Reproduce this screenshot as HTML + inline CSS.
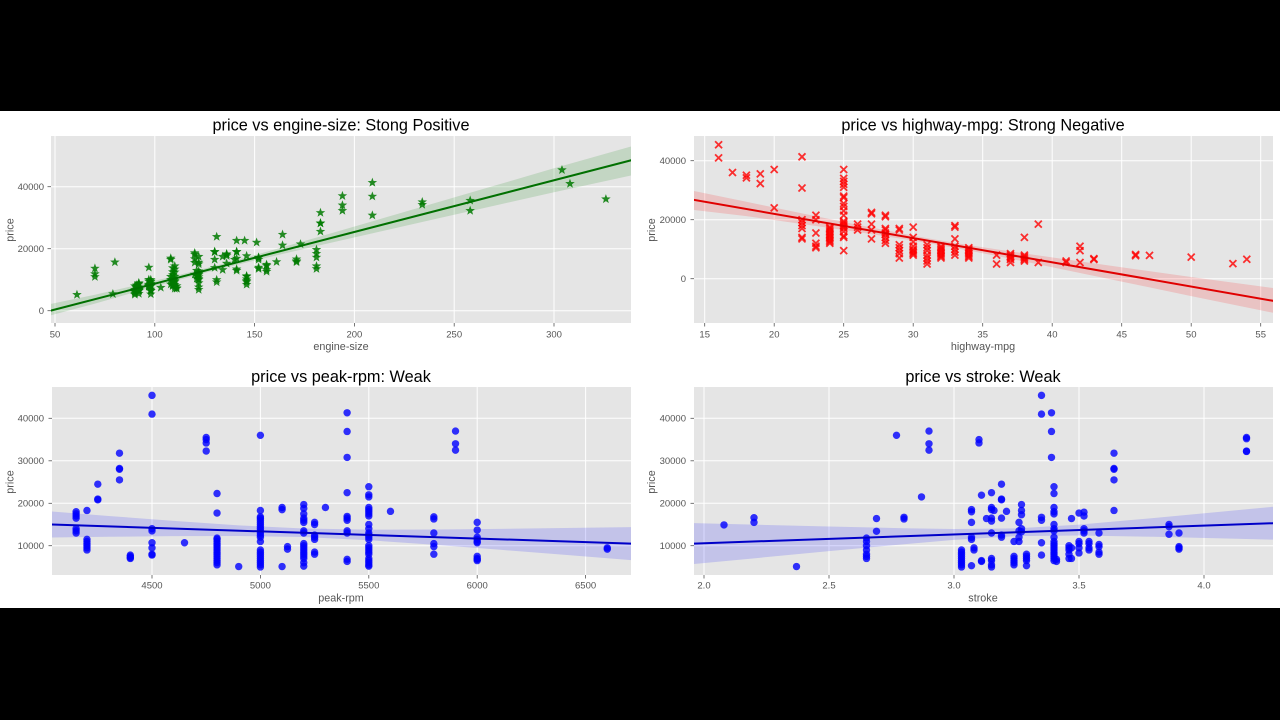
<!DOCTYPE html>
<html><head><meta charset="utf-8"><style>
html,body{margin:0;padding:0;background:#000;}
svg{display:block;}
text{font-family:"Liberation Sans",Arial,sans-serif;}
.tl{font-size:9.5px;fill:#555;}
.al{font-size:10.8px;fill:#555;}
.tt{font-size:16.3px;fill:#000;}
.g{stroke:#fff;stroke-width:1;}
.tk{stroke:#555;stroke-width:0.8;}
</style></head><body>
<svg width="1280" height="720" viewBox="0 0 1280 720" xmlns="http://www.w3.org/2000/svg">
<defs>
<path id="s1" d="M0,-5 L1.214,-1.671 L4.755,-1.545 L1.964,0.638 L2.939,4.045 L0,2.065 L-2.939,4.045 L-1.964,0.638 L-4.755,-1.545 L-1.214,-1.671 Z" fill="#007a00" fill-opacity="0.85" transform="scale(0.501,-322.58)"/>
<path id="x2" d="M-3.5,-3.5 L3.5,3.5 M-3.5,3.5 L3.5,-3.5" stroke="#ff0000" stroke-opacity="0.8" stroke-width="1.8" fill="none" transform="scale(0.071942,-338.983)"/>
<circle id="c3" r="3.7" fill="#0000ff" fill-opacity="0.8" transform="scale(4.61255,-235.46)"/>
<circle id="c4" r="3.7" fill="#0000ff" fill-opacity="0.8" transform="scale(0.004,-235.46)"/>
<clipPath id="k1"><rect x="51" y="136" width="580" height="187"/></clipPath>
<clipPath id="k2"><rect x="694" y="136" width="579" height="187"/></clipPath>
<clipPath id="k3"><rect x="52" y="387" width="579" height="188"/></clipPath>
<clipPath id="k4"><rect x="694" y="387" width="579" height="188"/></clipPath>
</defs>
<rect x="0" y="0" width="1280" height="720" fill="#000"/>
<rect x="0" y="111" width="1280" height="497" fill="#fff"/>

<!-- ===== Plot 1 ===== -->
<text class="tt" x="341" y="130.5" text-anchor="middle">price vs engine-size: Stong Positive</text>
<rect x="51" y="136" width="580" height="187" fill="#e5e5e5"/>
<g class="g">
<line x1="55" y1="136" x2="55" y2="323"/><line x1="154.8" y1="136" x2="154.8" y2="323"/><line x1="254.6" y1="136" x2="254.6" y2="323"/><line x1="354.4" y1="136" x2="354.4" y2="323"/><line x1="454.2" y1="136" x2="454.2" y2="323"/><line x1="554" y1="136" x2="554" y2="323"/>
<line x1="51" y1="310.7" x2="631" y2="310.7"/><line x1="51" y1="248.7" x2="631" y2="248.7"/><line x1="51" y1="186.7" x2="631" y2="186.7"/>
</g>
<g class="tk">
<line x1="55" y1="323" x2="55" y2="326.5"/><line x1="154.8" y1="323" x2="154.8" y2="326.5"/><line x1="254.6" y1="323" x2="254.6" y2="326.5"/><line x1="354.4" y1="323" x2="354.4" y2="326.5"/><line x1="454.2" y1="323" x2="454.2" y2="326.5"/><line x1="554" y1="323" x2="554" y2="326.5"/>
<line x1="47.5" y1="310.7" x2="51" y2="310.7"/><line x1="47.5" y1="248.7" x2="51" y2="248.7"/><line x1="47.5" y1="186.7" x2="51" y2="186.7"/>
</g>
<g class="tl" text-anchor="middle">
<text x="55" y="337.5">50</text><text x="154.8" y="337.5">100</text><text x="254.6" y="337.5">150</text><text x="354.4" y="337.5">200</text><text x="454.2" y="337.5">250</text><text x="554" y="337.5">300</text>
</g>
<g class="tl" text-anchor="end">
<text x="44" y="314">0</text><text x="44" y="252">20000</text><text x="44" y="190">40000</text>
</g>
<text class="al" x="341" y="350" text-anchor="middle">engine-size</text>
<text class="al" transform="translate(13.5,230) rotate(-90)" text-anchor="middle">price</text>
<g clip-path="url(#k1)">
<g transform="matrix(1.996 0 0 -0.0031 -44.8 310.7)">
<polygon fill="#008000" fill-opacity="0.15" points="46,1915 70,5147 90,8122 110,11178 127,13921 150,17920 180,23419 210,29018 240,34648 270,40291 300,45941 340,53217 340,43817 300,38213 270,33855 240,29490 210,25112 180,20703 150,16194 127,12521 110,9592 90,5976 70,2279 46,-1827"/>
<use href="#s1" x="61" y="5151"/><use href="#s1" x="70" y="10945"/><use href="#s1" x="70" y="11845"/><use href="#s1" x="70" y="13645"/><use href="#s1" x="79" y="5399"/><use href="#s1" x="80" y="15645"/>
<use href="#s1" x="90" y="5572"/><use href="#s1" x="90" y="6377"/><use href="#s1" x="90" y="7957"/><use href="#s1" x="90" y="6229"/><use href="#s1" x="90" y="5195"/><use href="#s1" x="90" y="6095"/><use href="#s1" x="90" y="6795"/>
<use href="#s1" x="91" y="7349"/><use href="#s1" x="91" y="7299"/><use href="#s1" x="91" y="7799"/><use href="#s1" x="91" y="7499"/><use href="#s1" x="91" y="7999"/><use href="#s1" x="91" y="8249"/>
<use href="#s1" x="92" y="6692"/><use href="#s1" x="92" y="7609"/><use href="#s1" x="92" y="8558"/><use href="#s1" x="92" y="8921"/><use href="#s1" x="92" y="6338"/><use href="#s1" x="92" y="6488"/><use href="#s1" x="92" y="5499"/><use href="#s1" x="92" y="7099"/><use href="#s1" x="92" y="6649"/><use href="#s1" x="92" y="6849"/><use href="#s1" x="92" y="6695"/><use href="#s1" x="92" y="7395"/><use href="#s1" x="92" y="8845"/>
<use href="#s1" x="97" y="13950"/><use href="#s1" x="97" y="7775"/><use href="#s1" x="97" y="7975"/><use href="#s1" x="97" y="8195"/><use href="#s1" x="97" y="8495"/><use href="#s1" x="97" y="9495"/><use href="#s1" x="97" y="9995"/>
<use href="#s1" x="98" y="5348"/><use href="#s1" x="98" y="6338"/><use href="#s1" x="98" y="6488"/><use href="#s1" x="98" y="6918"/><use href="#s1" x="98" y="7898"/><use href="#s1" x="98" y="8778"/><use href="#s1" x="98" y="9988"/><use href="#s1" x="98" y="8058"/><use href="#s1" x="98" y="8238"/><use href="#s1" x="98" y="9298"/><use href="#s1" x="98" y="9538"/>
<use href="#s1" x="103" y="7463"/>
<use href="#s1" x="108" y="16500"/><use href="#s1" x="108" y="16900"/><use href="#s1" x="108" y="11000"/><use href="#s1" x="108" y="10000"/><use href="#s1" x="108" y="8500"/>
<use href="#s1" x="109" y="7995"/><use href="#s1" x="109" y="8195"/><use href="#s1" x="109" y="8495"/><use href="#s1" x="109" y="9995"/><use href="#s1" x="109" y="11595"/><use href="#s1" x="109" y="9295"/><use href="#s1" x="109" y="9895"/><use href="#s1" x="109" y="12500"/><use href="#s1" x="109" y="13800"/>
<use href="#s1" x="110" y="7126"/><use href="#s1" x="110" y="7775"/><use href="#s1" x="110" y="8449"/><use href="#s1" x="110" y="9279"/><use href="#s1" x="110" y="9639"/><use href="#s1" x="110" y="10198"/><use href="#s1" x="110" y="11048"/><use href="#s1" x="110" y="12440"/><use href="#s1" x="110" y="13415"/><use href="#s1" x="110" y="14399"/>
<use href="#s1" x="111" y="8013"/><use href="#s1" x="111" y="7295"/><use href="#s1" x="111" y="7150"/>
<use href="#s1" x="120" y="18150"/><use href="#s1" x="120" y="18620"/><use href="#s1" x="120" y="16695"/><use href="#s1" x="120" y="15510"/><use href="#s1" x="120" y="11694"/>
<use href="#s1" x="121" y="12945"/><use href="#s1" x="121" y="10345"/><use href="#s1" x="121" y="11259"/>
<use href="#s1" x="122" y="6785"/><use href="#s1" x="122" y="7603"/><use href="#s1" x="122" y="8948"/><use href="#s1" x="122" y="9988"/><use href="#s1" x="122" y="10295"/><use href="#s1" x="122" y="10898"/><use href="#s1" x="122" y="11549"/><use href="#s1" x="122" y="11850"/><use href="#s1" x="122" y="12170"/><use href="#s1" x="122" y="12764"/><use href="#s1" x="122" y="15040"/><use href="#s1" x="122" y="15580"/><use href="#s1" x="122" y="17450"/>
<use href="#s1" x="130" y="18920"/><use href="#s1" x="130" y="19045"/><use href="#s1" x="130" y="16515"/><use href="#s1" x="130" y="13860"/>
<use href="#s1" x="131" y="23875"/><use href="#s1" x="131" y="9960"/><use href="#s1" x="131" y="9233"/>
<use href="#s1" x="134" y="13200"/><use href="#s1" x="134" y="17450"/>
<use href="#s1" x="136" y="17710"/><use href="#s1" x="136" y="18280"/><use href="#s1" x="136" y="18150"/><use href="#s1" x="136" y="15250"/>
<use href="#s1" x="140" y="16515"/>
<use href="#s1" x="141" y="22625"/><use href="#s1" x="141" y="18950"/><use href="#s1" x="141" y="16845"/><use href="#s1" x="141" y="13415"/><use href="#s1" x="141" y="12940"/><use href="#s1" x="141" y="19045"/>
<use href="#s1" x="145" y="22625"/>
<use href="#s1" x="146" y="8449"/><use href="#s1" x="146" y="9279"/><use href="#s1" x="146" y="9639"/><use href="#s1" x="146" y="11048"/><use href="#s1" x="146" y="11199"/><use href="#s1" x="146" y="17669"/><use href="#s1" x="146" y="10198"/>
<use href="#s1" x="151" y="22018"/>
<use href="#s1" x="152" y="16500"/><use href="#s1" x="152" y="17199"/><use href="#s1" x="152" y="17075"/><use href="#s1" x="152" y="13950"/><use href="#s1" x="152" y="13499"/>
<use href="#s1" x="156" y="12629"/><use href="#s1" x="156" y="14489"/><use href="#s1" x="156" y="14869"/><use href="#s1" x="156" y="13200"/>
<use href="#s1" x="161" y="15750"/>
<use href="#s1" x="164" y="21105"/><use href="#s1" x="164" y="24565"/>
<use href="#s1" x="171" y="15998"/><use href="#s1" x="171" y="15690"/><use href="#s1" x="171" y="16630"/>
<use href="#s1" x="173" y="21485"/>
<use href="#s1" x="181" y="13499"/><use href="#s1" x="181" y="14399"/><use href="#s1" x="181" y="17199"/><use href="#s1" x="181" y="18399"/><use href="#s1" x="181" y="19699"/>
<use href="#s1" x="183" y="25552"/><use href="#s1" x="183" y="28176"/><use href="#s1" x="183" y="28248"/><use href="#s1" x="183" y="31600"/>
<use href="#s1" x="194" y="32250"/><use href="#s1" x="194" y="34028"/><use href="#s1" x="194" y="37028"/>
<use href="#s1" x="209" y="30760"/><use href="#s1" x="209" y="36880"/><use href="#s1" x="209" y="41315"/>
<use href="#s1" x="234" y="34184"/><use href="#s1" x="234" y="35056"/>
<use href="#s1" x="258" y="32250"/><use href="#s1" x="258" y="35550"/>
<use href="#s1" x="304" y="45400"/><use href="#s1" x="308" y="40960"/><use href="#s1" x="326" y="36000"/>
<line x1="46" y1="-290" x2="340" y2="48751" stroke="#007000" stroke-width="2" vector-effect="non-scaling-stroke"/>
</g></g>

<!-- ===== Plot 2 ===== -->
<text class="tt" x="983" y="130.5" text-anchor="middle">price vs highway-mpg: Strong Negative</text>
<rect x="694" y="136" width="579" height="187" fill="#e5e5e5"/>
<g class="g">
<line x1="704.7" y1="136" x2="704.7" y2="323"/><line x1="774.2" y1="136" x2="774.2" y2="323"/><line x1="843.7" y1="136" x2="843.7" y2="323"/><line x1="913.2" y1="136" x2="913.2" y2="323"/><line x1="982.7" y1="136" x2="982.7" y2="323"/><line x1="1052.2" y1="136" x2="1052.2" y2="323"/><line x1="1121.7" y1="136" x2="1121.7" y2="323"/><line x1="1191.2" y1="136" x2="1191.2" y2="323"/><line x1="1260.7" y1="136" x2="1260.7" y2="323"/>
<line x1="694" y1="278.7" x2="1273" y2="278.7"/><line x1="694" y1="219.7" x2="1273" y2="219.7"/><line x1="694" y1="160.7" x2="1273" y2="160.7"/>
</g>
<g class="tk">
<line x1="704.7" y1="323" x2="704.7" y2="326.5"/><line x1="774.2" y1="323" x2="774.2" y2="326.5"/><line x1="843.7" y1="323" x2="843.7" y2="326.5"/><line x1="913.2" y1="323" x2="913.2" y2="326.5"/><line x1="982.7" y1="323" x2="982.7" y2="326.5"/><line x1="1052.2" y1="323" x2="1052.2" y2="326.5"/><line x1="1121.7" y1="323" x2="1121.7" y2="326.5"/><line x1="1191.2" y1="323" x2="1191.2" y2="326.5"/><line x1="1260.7" y1="323" x2="1260.7" y2="326.5"/>
<line x1="690.5" y1="278.7" x2="694" y2="278.7"/><line x1="690.5" y1="219.7" x2="694" y2="219.7"/><line x1="690.5" y1="160.7" x2="694" y2="160.7"/>
</g>
<g class="tl" text-anchor="middle">
<text x="704.7" y="337.5">15</text><text x="774.2" y="337.5">20</text><text x="843.7" y="337.5">25</text><text x="913.2" y="337.5">30</text><text x="982.7" y="337.5">35</text><text x="1052.2" y="337.5">40</text><text x="1121.7" y="337.5">45</text><text x="1191.2" y="337.5">50</text><text x="1260.7" y="337.5">55</text>
</g>
<g class="tl" text-anchor="end">
<text x="686" y="282">0</text><text x="686" y="223">20000</text><text x="686" y="164">40000</text>
</g>
<text class="al" x="983" y="350" text-anchor="middle">highway-mpg</text>
<text class="al" transform="translate(655,230) rotate(-90)" text-anchor="middle">price</text>
<g clip-path="url(#k2)">
<g transform="matrix(13.9 0 0 -0.00295 496.2 278.7)">
<polygon fill="#ff0000" fill-opacity="0.15" points="14,29950 18,26067 22,22151 26,18291 30,14612 31.5,13339 34,11391 38,8564 42,5871 46,3221 50,589 56.2,-3342 56.2,-11842 50,-5913 46,-1971 42,1953 38,5832 34,9579 31.5,11739 30,12932 26,15827 22,18541 18,21197 14,23400"/>
<use href="#x2" x="16" y="45400"/><use href="#x2" x="16" y="40960"/><use href="#x2" x="17" y="36000"/><use href="#x2" x="18" y="34184"/><use href="#x2" x="18" y="35056"/><use href="#x2" x="19" y="35550"/><use href="#x2" x="19" y="32250"/><use href="#x2" x="20" y="37028"/><use href="#x2" x="20" y="24000"/>
<use href="#x2" x="22" y="41315"/><use href="#x2" x="22" y="30760"/><use href="#x2" x="22" y="20000"/><use href="#x2" x="22" y="19000"/><use href="#x2" x="22" y="18000"/><use href="#x2" x="22" y="17000"/><use href="#x2" x="22" y="14000"/><use href="#x2" x="22" y="13500"/>
<use href="#x2" x="23" y="21500"/><use href="#x2" x="23" y="20000"/><use href="#x2" x="23" y="15500"/><use href="#x2" x="23" y="12000"/><use href="#x2" x="23" y="11000"/><use href="#x2" x="23" y="10500"/>
<use href="#x2" x="24" y="17500"/><use href="#x2" x="24" y="17000"/><use href="#x2" x="24" y="16500"/><use href="#x2" x="24" y="16000"/><use href="#x2" x="24" y="15500"/><use href="#x2" x="24" y="15000"/><use href="#x2" x="24" y="14500"/><use href="#x2" x="24" y="14000"/><use href="#x2" x="24" y="13500"/><use href="#x2" x="24" y="13000"/><use href="#x2" x="24" y="12500"/><use href="#x2" x="24" y="12000"/>
<use href="#x2" x="25" y="37028"/><use href="#x2" x="25" y="34000"/><use href="#x2" x="25" y="33000"/><use href="#x2" x="25" y="32000"/><use href="#x2" x="25" y="31000"/><use href="#x2" x="25" y="28000"/><use href="#x2" x="25" y="27500"/><use href="#x2" x="25" y="25500"/><use href="#x2" x="25" y="24500"/><use href="#x2" x="25" y="23000"/><use href="#x2" x="25" y="21500"/><use href="#x2" x="25" y="19500"/><use href="#x2" x="25" y="19000"/><use href="#x2" x="25" y="18500"/><use href="#x2" x="25" y="18000"/><use href="#x2" x="25" y="17500"/><use href="#x2" x="25" y="17000"/><use href="#x2" x="25" y="16000"/><use href="#x2" x="25" y="14500"/><use href="#x2" x="25" y="14000"/><use href="#x2" x="25" y="9500"/>
<use href="#x2" x="26" y="18500"/><use href="#x2" x="26" y="17500"/><use href="#x2" x="26" y="16500"/>
<use href="#x2" x="27" y="22500"/><use href="#x2" x="27" y="22000"/><use href="#x2" x="27" y="18500"/><use href="#x2" x="27" y="16500"/><use href="#x2" x="27" y="13500"/>
<use href="#x2" x="28" y="21500"/><use href="#x2" x="28" y="21000"/><use href="#x2" x="28" y="17000"/><use href="#x2" x="28" y="16500"/><use href="#x2" x="28" y="15500"/><use href="#x2" x="28" y="15000"/><use href="#x2" x="28" y="14000"/><use href="#x2" x="28" y="13000"/><use href="#x2" x="28" y="12000"/>
<use href="#x2" x="29" y="17000"/><use href="#x2" x="29" y="16500"/><use href="#x2" x="29" y="11500"/><use href="#x2" x="29" y="10500"/><use href="#x2" x="29" y="9500"/><use href="#x2" x="29" y="8500"/><use href="#x2" x="29" y="7000"/>
<use href="#x2" x="30" y="17500"/><use href="#x2" x="30" y="14000"/><use href="#x2" x="30" y="12500"/><use href="#x2" x="30" y="11000"/><use href="#x2" x="30" y="10000"/><use href="#x2" x="30" y="9500"/><use href="#x2" x="30" y="9000"/><use href="#x2" x="30" y="8500"/><use href="#x2" x="30" y="8000"/>
<use href="#x2" x="31" y="11500"/><use href="#x2" x="31" y="10500"/><use href="#x2" x="31" y="9500"/><use href="#x2" x="31" y="8000"/><use href="#x2" x="31" y="7000"/><use href="#x2" x="31" y="6000"/><use href="#x2" x="31" y="5000"/>
<use href="#x2" x="32" y="11000"/><use href="#x2" x="32" y="10500"/><use href="#x2" x="32" y="10000"/><use href="#x2" x="32" y="9500"/><use href="#x2" x="32" y="9000"/><use href="#x2" x="32" y="8500"/><use href="#x2" x="32" y="8000"/><use href="#x2" x="32" y="7500"/><use href="#x2" x="32" y="7000"/>
<use href="#x2" x="33" y="18000"/><use href="#x2" x="33" y="17500"/><use href="#x2" x="33" y="13500"/><use href="#x2" x="33" y="11000"/><use href="#x2" x="33" y="10000"/><use href="#x2" x="33" y="9000"/><use href="#x2" x="33" y="8000"/>
<use href="#x2" x="34" y="10500"/><use href="#x2" x="34" y="10000"/><use href="#x2" x="34" y="9500"/><use href="#x2" x="34" y="9000"/><use href="#x2" x="34" y="8500"/><use href="#x2" x="34" y="8000"/><use href="#x2" x="34" y="7500"/><use href="#x2" x="34" y="7000"/>
<use href="#x2" x="36" y="8000"/><use href="#x2" x="36" y="5000"/>
<use href="#x2" x="37" y="8500"/><use href="#x2" x="37" y="8000"/><use href="#x2" x="37" y="7500"/><use href="#x2" x="37" y="7000"/><use href="#x2" x="37" y="6500"/><use href="#x2" x="37" y="5500"/>
<use href="#x2" x="38" y="14000"/><use href="#x2" x="38" y="8000"/><use href="#x2" x="38" y="7500"/><use href="#x2" x="38" y="7000"/><use href="#x2" x="38" y="6500"/><use href="#x2" x="38" y="6000"/>
<use href="#x2" x="39" y="18500"/><use href="#x2" x="39" y="5500"/>
<use href="#x2" x="41" y="6000"/><use href="#x2" x="41" y="5500"/>
<use href="#x2" x="42" y="11000"/><use href="#x2" x="42" y="9500"/><use href="#x2" x="42" y="5500"/>
<use href="#x2" x="43" y="6800"/><use href="#x2" x="43" y="6500"/>
<use href="#x2" x="46" y="8200"/><use href="#x2" x="46" y="7800"/><use href="#x2" x="47" y="7900"/><use href="#x2" x="50" y="7300"/><use href="#x2" x="53" y="5100"/><use href="#x2" x="54" y="6600"/>
<line x1="14" y1="26919" x2="56.2" y2="-7757" stroke="#e00000" stroke-width="2" vector-effect="non-scaling-stroke"/>
</g></g>

<!-- ===== Plot 3 ===== -->
<text class="tt" x="341" y="382" text-anchor="middle">price vs peak-rpm: Weak</text>
<rect x="52" y="387" width="579" height="188" fill="#e5e5e5"/>
<g class="g">
<line x1="152" y1="387" x2="152" y2="575"/><line x1="260.4" y1="387" x2="260.4" y2="575"/><line x1="368.8" y1="387" x2="368.8" y2="575"/><line x1="477.2" y1="387" x2="477.2" y2="575"/><line x1="585.6" y1="387" x2="585.6" y2="575"/>
<line x1="52" y1="545.7" x2="631" y2="545.7"/><line x1="52" y1="503.3" x2="631" y2="503.3"/><line x1="52" y1="460.8" x2="631" y2="460.8"/><line x1="52" y1="418.3" x2="631" y2="418.3"/>
</g>
<g class="tk">
<line x1="152" y1="575" x2="152" y2="578.5"/><line x1="260.4" y1="575" x2="260.4" y2="578.5"/><line x1="368.8" y1="575" x2="368.8" y2="578.5"/><line x1="477.2" y1="575" x2="477.2" y2="578.5"/><line x1="585.6" y1="575" x2="585.6" y2="578.5"/>
<line x1="48.5" y1="545.7" x2="52" y2="545.7"/><line x1="48.5" y1="503.3" x2="52" y2="503.3"/><line x1="48.5" y1="460.8" x2="52" y2="460.8"/><line x1="48.5" y1="418.3" x2="52" y2="418.3"/>
</g>
<g class="tl" text-anchor="middle">
<text x="152" y="588.5">4500</text><text x="260.4" y="588.5">5000</text><text x="368.8" y="588.5">5500</text><text x="477.2" y="588.5">6000</text><text x="585.6" y="588.5">6500</text>
</g>
<g class="tl" text-anchor="end">
<text x="44" y="549">10000</text><text x="44" y="506.6">20000</text><text x="44" y="464.1">30000</text><text x="44" y="421.6">40000</text>
</g>
<text class="al" x="341" y="601.5" text-anchor="middle">peak-rpm</text>
<text class="al" transform="translate(13.5,482) rotate(-90)" text-anchor="middle">price</text>
<g clip-path="url(#k3)">
<g transform="matrix(0.2168 0 0 -0.004247 -823.6 588.2)">
<polygon fill="#0000ff" fill-opacity="0.15" points="4030,18090 4300,17014 4600,15853 4900,14797 5200,14044 5500,13786 5800,13831 6100,13981 6400,14173 6715,14395 6715,6600 6400,7871 6100,9073 5800,10235 5500,11290 5200,12044 4900,12301 4600,12257 4300,12106 4030,11930"/>
<use href="#c3" x="4150" y="18000"/><use href="#c3" x="4150" y="17500"/><use href="#c3" x="4150" y="17000"/><use href="#c3" x="4150" y="16500"/><use href="#c3" x="4150" y="14000"/><use href="#c3" x="4150" y="13500"/><use href="#c3" x="4150" y="13000"/>
<use href="#c3" x="4200" y="18300"/><use href="#c3" x="4200" y="11500"/><use href="#c3" x="4200" y="11000"/><use href="#c3" x="4200" y="10500"/><use href="#c3" x="4200" y="10000"/><use href="#c3" x="4200" y="9500"/><use href="#c3" x="4200" y="9000"/>
<use href="#c3" x="4250" y="24500"/><use href="#c3" x="4250" y="21000"/><use href="#c3" x="4250" y="20800"/>
<use href="#c3" x="4350" y="31800"/><use href="#c3" x="4350" y="28200"/><use href="#c3" x="4350" y="28000"/><use href="#c3" x="4350" y="25500"/>
<use href="#c3" x="4400" y="7800"/><use href="#c3" x="4400" y="7500"/><use href="#c3" x="4400" y="7200"/><use href="#c3" x="4400" y="7000"/>
<use href="#c3" x="4500" y="45400"/><use href="#c3" x="4500" y="41000"/><use href="#c3" x="4500" y="14000"/><use href="#c3" x="4500" y="13500"/><use href="#c3" x="4500" y="10700"/><use href="#c3" x="4500" y="9500"/><use href="#c3" x="4500" y="8000"/><use href="#c3" x="4500" y="7800"/>
<use href="#c3" x="4650" y="10700"/>
<use href="#c3" x="4750" y="35500"/><use href="#c3" x="4750" y="35000"/><use href="#c3" x="4750" y="34200"/><use href="#c3" x="4750" y="32300"/>
<use href="#c3" x="4800" y="22300"/><use href="#c3" x="4800" y="17700"/><use href="#c3" x="4800" y="11800"/><use href="#c3" x="4800" y="11500"/><use href="#c3" x="4800" y="11000"/><use href="#c3" x="4800" y="10500"/><use href="#c3" x="4800" y="10000"/><use href="#c3" x="4800" y="9500"/><use href="#c3" x="4800" y="9000"/><use href="#c3" x="4800" y="8500"/><use href="#c3" x="4800" y="8000"/><use href="#c3" x="4800" y="7500"/><use href="#c3" x="4800" y="7000"/><use href="#c3" x="4800" y="6500"/><use href="#c3" x="4800" y="6000"/><use href="#c3" x="4800" y="5500"/>
<use href="#c3" x="4900" y="5100"/>
<use href="#c3" x="5000" y="36000"/><use href="#c3" x="5000" y="18300"/><use href="#c3" x="5000" y="16800"/><use href="#c3" x="5000" y="16500"/><use href="#c3" x="5000" y="16000"/><use href="#c3" x="5000" y="15500"/><use href="#c3" x="5000" y="15000"/><use href="#c3" x="5000" y="14500"/><use href="#c3" x="5000" y="14000"/><use href="#c3" x="5000" y="13500"/><use href="#c3" x="5000" y="13000"/><use href="#c3" x="5000" y="12500"/><use href="#c3" x="5000" y="12000"/><use href="#c3" x="5000" y="11000"/><use href="#c3" x="5000" y="9000"/><use href="#c3" x="5000" y="8500"/><use href="#c3" x="5000" y="8000"/><use href="#c3" x="5000" y="7500"/><use href="#c3" x="5000" y="7000"/><use href="#c3" x="5000" y="6500"/><use href="#c3" x="5000" y="6000"/><use href="#c3" x="5000" y="5500"/><use href="#c3" x="5000" y="5000"/>
<use href="#c3" x="5100" y="19000"/><use href="#c3" x="5100" y="18500"/><use href="#c3" x="5100" y="5100"/>
<use href="#c3" x="5125" y="9800"/><use href="#c3" x="5125" y="9200"/>
<use href="#c3" x="5200" y="19700"/><use href="#c3" x="5200" y="18800"/><use href="#c3" x="5200" y="17500"/><use href="#c3" x="5200" y="16500"/><use href="#c3" x="5200" y="16000"/><use href="#c3" x="5200" y="15500"/><use href="#c3" x="5200" y="13500"/><use href="#c3" x="5200" y="13000"/><use href="#c3" x="5200" y="10500"/><use href="#c3" x="5200" y="10000"/><use href="#c3" x="5200" y="9500"/><use href="#c3" x="5200" y="9000"/><use href="#c3" x="5200" y="8500"/><use href="#c3" x="5200" y="8000"/><use href="#c3" x="5200" y="7500"/><use href="#c3" x="5200" y="7000"/><use href="#c3" x="5200" y="6000"/><use href="#c3" x="5200" y="5200"/>
<use href="#c3" x="5250" y="15500"/><use href="#c3" x="5250" y="15000"/><use href="#c3" x="5250" y="12500"/><use href="#c3" x="5250" y="12000"/><use href="#c3" x="5250" y="11500"/><use href="#c3" x="5250" y="8500"/><use href="#c3" x="5250" y="8000"/>
<use href="#c3" x="5300" y="19000"/>
<use href="#c3" x="5400" y="41300"/><use href="#c3" x="5400" y="36900"/><use href="#c3" x="5400" y="30800"/><use href="#c3" x="5400" y="22500"/><use href="#c3" x="5400" y="16900"/><use href="#c3" x="5400" y="16500"/><use href="#c3" x="5400" y="16000"/><use href="#c3" x="5400" y="13500"/><use href="#c3" x="5400" y="13000"/><use href="#c3" x="5400" y="6800"/><use href="#c3" x="5400" y="6300"/>
<use href="#c3" x="5500" y="23900"/><use href="#c3" x="5500" y="22000"/><use href="#c3" x="5500" y="21500"/><use href="#c3" x="5500" y="19000"/><use href="#c3" x="5500" y="18500"/><use href="#c3" x="5500" y="18000"/><use href="#c3" x="5500" y="17500"/><use href="#c3" x="5500" y="17000"/><use href="#c3" x="5500" y="15000"/><use href="#c3" x="5500" y="14000"/><use href="#c3" x="5500" y="13000"/><use href="#c3" x="5500" y="12500"/><use href="#c3" x="5500" y="12000"/><use href="#c3" x="5500" y="11500"/><use href="#c3" x="5500" y="10000"/><use href="#c3" x="5500" y="9500"/><use href="#c3" x="5500" y="9000"/><use href="#c3" x="5500" y="8500"/><use href="#c3" x="5500" y="8000"/><use href="#c3" x="5500" y="7000"/><use href="#c3" x="5500" y="6500"/><use href="#c3" x="5500" y="6000"/><use href="#c3" x="5500" y="5500"/><use href="#c3" x="5500" y="5200"/>
<use href="#c3" x="5600" y="18100"/>
<use href="#c3" x="5800" y="16800"/><use href="#c3" x="5800" y="16300"/><use href="#c3" x="5800" y="13000"/><use href="#c3" x="5800" y="10500"/><use href="#c3" x="5800" y="9800"/><use href="#c3" x="5800" y="8000"/>
<use href="#c3" x="5900" y="37000"/><use href="#c3" x="5900" y="34000"/><use href="#c3" x="5900" y="32500"/>
<use href="#c3" x="6000" y="15500"/><use href="#c3" x="6000" y="13700"/><use href="#c3" x="6000" y="12000"/><use href="#c3" x="6000" y="11500"/><use href="#c3" x="6000" y="11000"/><use href="#c3" x="6000" y="10700"/><use href="#c3" x="6000" y="7500"/><use href="#c3" x="6000" y="7000"/><use href="#c3" x="6000" y="6800"/><use href="#c3" x="6000" y="6500"/>
<use href="#c3" x="6600" y="9500"/><use href="#c3" x="6600" y="9200"/>
<line x1="4030" y1="15015" x2="6715" y2="10491" stroke="#0000c8" stroke-width="2" vector-effect="non-scaling-stroke"/>
</g></g>

<!-- ===== Plot 4 ===== -->
<text class="tt" x="983" y="382" text-anchor="middle">price vs stroke: Weak</text>
<rect x="694" y="387" width="579" height="188" fill="#e5e5e5"/>
<g class="g">
<line x1="704" y1="387" x2="704" y2="575"/><line x1="829" y1="387" x2="829" y2="575"/><line x1="954" y1="387" x2="954" y2="575"/><line x1="1079" y1="387" x2="1079" y2="575"/><line x1="1204" y1="387" x2="1204" y2="575"/>
<line x1="694" y1="545.7" x2="1273" y2="545.7"/><line x1="694" y1="503.3" x2="1273" y2="503.3"/><line x1="694" y1="460.8" x2="1273" y2="460.8"/><line x1="694" y1="418.3" x2="1273" y2="418.3"/>
</g>
<g class="tk">
<line x1="704" y1="575" x2="704" y2="578.5"/><line x1="829" y1="575" x2="829" y2="578.5"/><line x1="954" y1="575" x2="954" y2="578.5"/><line x1="1079" y1="575" x2="1079" y2="578.5"/><line x1="1204" y1="575" x2="1204" y2="578.5"/>
<line x1="690.5" y1="545.7" x2="694" y2="545.7"/><line x1="690.5" y1="503.3" x2="694" y2="503.3"/><line x1="690.5" y1="460.8" x2="694" y2="460.8"/><line x1="690.5" y1="418.3" x2="694" y2="418.3"/>
</g>
<g class="tl" text-anchor="middle">
<text x="704" y="588.5">2.0</text><text x="829" y="588.5">2.5</text><text x="954" y="588.5">3.0</text><text x="1079" y="588.5">3.5</text><text x="1204" y="588.5">4.0</text>
</g>
<g class="tl" text-anchor="end">
<text x="686" y="549">10000</text><text x="686" y="506.6">20000</text><text x="686" y="464.1">30000</text><text x="686" y="421.6">40000</text>
</g>
<text class="al" x="983" y="601.5" text-anchor="middle">stroke</text>
<text class="al" transform="translate(655,482) rotate(-90)" text-anchor="middle">price</text>
<g clip-path="url(#k4)">
<g transform="matrix(250 0 0 -0.004247 204 588.2)">
<polygon fill="#0000ff" fill-opacity="0.15" points="1.95,15340 2.2,14958 2.5,14518 2.8,14124 3.0,13941 3.25,14074 3.5,14978 3.8,16525 4.05,17906 4.28,19200 4.28,11420 4.05,11758 3.8,12101 3.5,12406 3.25,12274 3.0,11369 2.8,10358 2.5,8720 2.2,7036 1.95,5650"/>
<use href="#c4" x="2.08" y="14900"/>
<use href="#c4" x="2.2" y="16600"/><use href="#c4" x="2.2" y="15500"/>
<use href="#c4" x="2.37" y="5100"/>
<use href="#c4" x="2.65" y="11800"/><use href="#c4" x="2.65" y="11000"/><use href="#c4" x="2.65" y="10000"/><use href="#c4" x="2.65" y="9000"/><use href="#c4" x="2.65" y="8000"/><use href="#c4" x="2.65" y="7500"/><use href="#c4" x="2.65" y="7000"/>
<use href="#c4" x="2.69" y="16400"/><use href="#c4" x="2.69" y="13400"/>
<use href="#c4" x="2.77" y="36000"/>
<use href="#c4" x="2.8" y="16700"/><use href="#c4" x="2.8" y="16300"/>
<use href="#c4" x="2.87" y="21500"/>
<use href="#c4" x="2.9" y="37000"/><use href="#c4" x="2.9" y="34000"/><use href="#c4" x="2.9" y="32500"/>
<use href="#c4" x="3.03" y="9000"/><use href="#c4" x="3.03" y="8500"/><use href="#c4" x="3.03" y="8000"/><use href="#c4" x="3.03" y="7500"/><use href="#c4" x="3.03" y="7000"/><use href="#c4" x="3.03" y="6500"/><use href="#c4" x="3.03" y="6000"/><use href="#c4" x="3.03" y="5500"/><use href="#c4" x="3.03" y="5000"/>
<use href="#c4" x="3.07" y="18500"/><use href="#c4" x="3.07" y="18000"/><use href="#c4" x="3.07" y="15500"/><use href="#c4" x="3.07" y="12000"/><use href="#c4" x="3.07" y="11500"/><use href="#c4" x="3.07" y="5300"/>
<use href="#c4" x="3.08" y="9500"/><use href="#c4" x="3.08" y="9000"/>
<use href="#c4" x="3.1" y="35000"/><use href="#c4" x="3.1" y="34200"/>
<use href="#c4" x="3.11" y="21900"/><use href="#c4" x="3.11" y="6500"/><use href="#c4" x="3.11" y="6300"/>
<use href="#c4" x="3.13" y="16400"/>
<use href="#c4" x="3.15" y="22500"/><use href="#c4" x="3.15" y="19000"/><use href="#c4" x="3.15" y="18500"/><use href="#c4" x="3.15" y="16500"/><use href="#c4" x="3.15" y="15800"/><use href="#c4" x="3.15" y="13000"/><use href="#c4" x="3.15" y="7000"/><use href="#c4" x="3.15" y="6500"/><use href="#c4" x="3.15" y="5500"/><use href="#c4" x="3.15" y="5000"/>
<use href="#c4" x="3.16" y="18300"/>
<use href="#c4" x="3.19" y="24500"/><use href="#c4" x="3.19" y="21000"/><use href="#c4" x="3.19" y="20800"/><use href="#c4" x="3.19" y="16500"/><use href="#c4" x="3.19" y="12500"/><use href="#c4" x="3.19" y="12000"/>
<use href="#c4" x="3.21" y="18100"/>
<use href="#c4" x="3.24" y="11000"/><use href="#c4" x="3.24" y="7500"/><use href="#c4" x="3.24" y="7000"/><use href="#c4" x="3.24" y="6500"/><use href="#c4" x="3.24" y="6000"/><use href="#c4" x="3.24" y="5500"/>
<use href="#c4" x="3.26" y="15500"/><use href="#c4" x="3.26" y="13500"/><use href="#c4" x="3.26" y="12000"/><use href="#c4" x="3.26" y="11000"/>
<use href="#c4" x="3.27" y="19700"/><use href="#c4" x="3.27" y="18300"/><use href="#c4" x="3.27" y="17300"/><use href="#c4" x="3.27" y="14000"/><use href="#c4" x="3.27" y="13300"/>
<use href="#c4" x="3.29" y="8000"/><use href="#c4" x="3.29" y="7500"/><use href="#c4" x="3.29" y="7000"/><use href="#c4" x="3.29" y="6500"/><use href="#c4" x="3.29" y="5300"/>
<use href="#c4" x="3.35" y="45400"/><use href="#c4" x="3.35" y="41000"/><use href="#c4" x="3.35" y="16700"/><use href="#c4" x="3.35" y="16000"/><use href="#c4" x="3.35" y="10700"/><use href="#c4" x="3.35" y="7800"/>
<use href="#c4" x="3.39" y="41300"/><use href="#c4" x="3.39" y="36900"/><use href="#c4" x="3.39" y="30800"/>
<use href="#c4" x="3.4" y="23900"/><use href="#c4" x="3.4" y="22300"/><use href="#c4" x="3.4" y="19000"/><use href="#c4" x="3.4" y="18000"/><use href="#c4" x="3.4" y="17500"/><use href="#c4" x="3.4" y="15000"/><use href="#c4" x="3.4" y="14000"/><use href="#c4" x="3.4" y="13500"/><use href="#c4" x="3.4" y="12000"/><use href="#c4" x="3.4" y="11000"/><use href="#c4" x="3.4" y="10500"/><use href="#c4" x="3.4" y="10000"/><use href="#c4" x="3.4" y="9500"/><use href="#c4" x="3.4" y="9000"/><use href="#c4" x="3.4" y="8500"/><use href="#c4" x="3.4" y="8000"/><use href="#c4" x="3.4" y="7500"/><use href="#c4" x="3.4" y="7000"/><use href="#c4" x="3.4" y="6500"/>
<use href="#c4" x="3.41" y="6800"/><use href="#c4" x="3.41" y="6300"/>
<use href="#c4" x="3.46" y="10000"/><use href="#c4" x="3.46" y="9500"/><use href="#c4" x="3.46" y="9000"/><use href="#c4" x="3.46" y="8000"/><use href="#c4" x="3.46" y="7000"/>
<use href="#c4" x="3.47" y="16400"/><use href="#c4" x="3.47" y="9500"/><use href="#c4" x="3.47" y="7000"/>
<use href="#c4" x="3.5" y="17700"/><use href="#c4" x="3.5" y="11000"/><use href="#c4" x="3.5" y="10500"/><use href="#c4" x="3.5" y="9500"/><use href="#c4" x="3.5" y="8300"/>
<use href="#c4" x="3.52" y="17900"/><use href="#c4" x="3.52" y="17000"/><use href="#c4" x="3.52" y="14000"/><use href="#c4" x="3.52" y="13500"/><use href="#c4" x="3.52" y="13000"/>
<use href="#c4" x="3.54" y="11000"/><use href="#c4" x="3.54" y="10500"/><use href="#c4" x="3.54" y="9500"/><use href="#c4" x="3.54" y="9000"/>
<use href="#c4" x="3.58" y="13000"/><use href="#c4" x="3.58" y="10300"/><use href="#c4" x="3.58" y="9800"/><use href="#c4" x="3.58" y="8500"/><use href="#c4" x="3.58" y="8000"/>
<use href="#c4" x="3.64" y="31800"/><use href="#c4" x="3.64" y="28200"/><use href="#c4" x="3.64" y="28000"/><use href="#c4" x="3.64" y="25500"/><use href="#c4" x="3.64" y="18300"/>
<use href="#c4" x="3.86" y="15000"/><use href="#c4" x="3.86" y="14500"/><use href="#c4" x="3.86" y="12700"/>
<use href="#c4" x="3.9" y="13000"/><use href="#c4" x="3.9" y="9800"/><use href="#c4" x="3.9" y="9500"/><use href="#c4" x="3.9" y="9200"/>
<use href="#c4" x="4.17" y="35500"/><use href="#c4" x="4.17" y="35200"/><use href="#c4" x="4.17" y="32300"/><use href="#c4" x="4.17" y="32200"/>
<line x1="1.95" y1="10479" x2="4.28" y2="15308" stroke="#0000c8" stroke-width="2" vector-effect="non-scaling-stroke"/>
</g></g>
</svg>
</body></html>
